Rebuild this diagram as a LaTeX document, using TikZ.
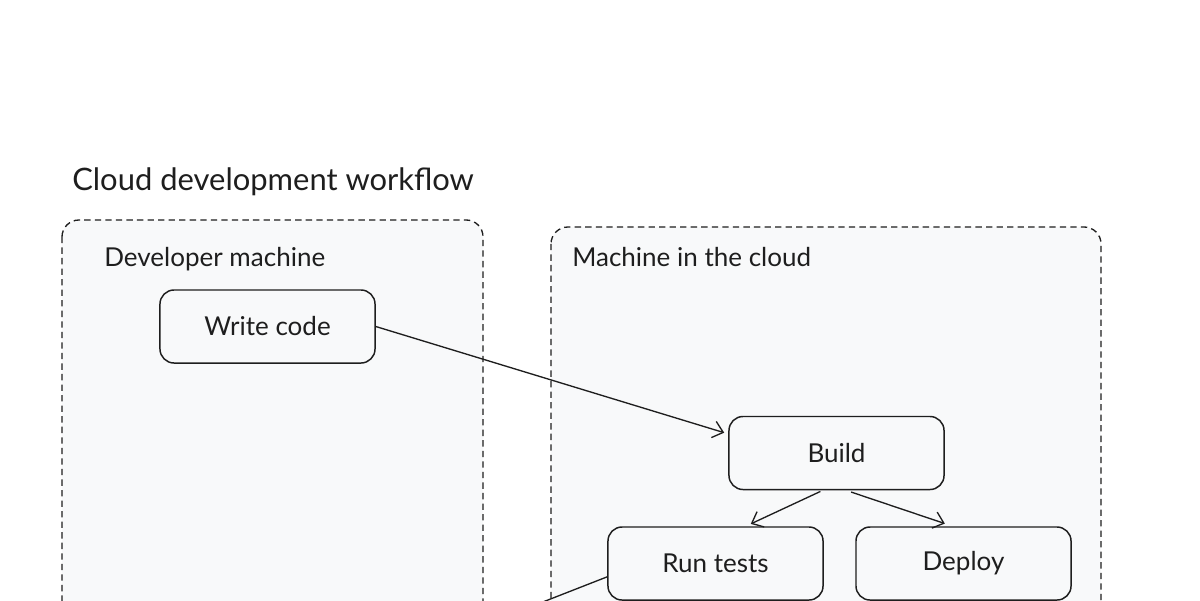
\documentclass[tikz,border=0pt]{standalone}
\usepackage{fontspec}
\setmainfont{Lato}
\usetikzlibrary{arrows.meta}
\definecolor{inkcol}{HTML}{1E1E1E}
\definecolor{areafill}{HTML}{F8F9FA}
\begin{document}
\begin{tikzpicture}[x=0.025cm,y=-0.025cm,
    areabox/.style={draw=inkcol,dashed,dash pattern=on 4.5pt off 3pt,line width=0.95pt,fill=areafill,rounded corners=12pt},
    stepbox/.style={draw=inkcol,line width=1.05pt,rounded corners=10pt,minimum width=5.375cm,minimum height=1.825cm,inner sep=0pt,font=\fontsize{18.5}{22}\selectfont,text=inkcol},
    arealabel/.style={anchor=west,inner sep=0pt,font=\fontsize{18.5}{22}\selectfont,text=inkcol},
    flow/.style={draw=inkcol,line width=0.95pt,-{Straight Barb[length=7pt,width=12pt]}}]
    \useasboundingbox (0,0) rectangle (1200,600);
    \clip (0,0) rectangle (1200,600);
    \fill [white] (0,0) rectangle (1200,600);
    \draw [areabox] (62,220) rectangle (483,650);
    \draw [areabox] (551,227) rectangle (1101,650);
    \node (title) [arealabel,font=\fontsize{22}{26}\selectfont] at (72,182) {Cloud development workflow};
    \node (devlabel) [arealabel] at (104,259) {Developer machine};
    \node (cloudlabel) [arealabel] at (572,257) {Machine in the cloud};
    \node (writecode) [stepbox] at (267.5,326.5) {Write code};
    \node (build) [stepbox] at (836.5,453) {Build};
    \node (runtests) [stepbox] at (715.5,563.5) {Run tests};
    \node (deploy) [stepbox] at (963.5,563.5) {Deploy};
    \coordinate (offpage) at (530,607);
    \draw [flow,shorten >=3pt] (writecode.east) -- (build.170);
    \draw [flow,shorten <=2pt,shorten >=4pt] (build.250) -- (runtests.51);
    \draw [flow,shorten <=4pt,shorten >=6pt] (build.284) -- (deploy.106);
    \draw [draw=inkcol,line width=0.95pt] (runtests.187) -- (offpage);
\end{tikzpicture}
\end{document}
